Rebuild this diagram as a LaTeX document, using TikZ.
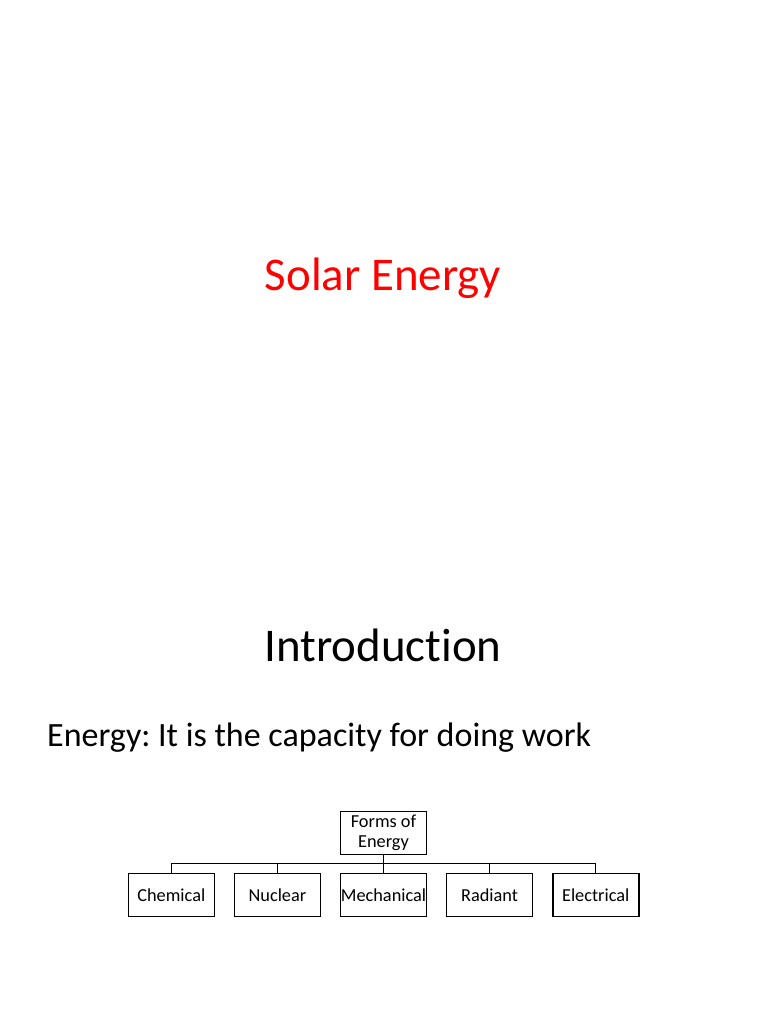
\documentclass[tikz,border=0pt]{standalone}
\usepackage{fontspec}
\setmainfont{Carlito}[Ligatures={NoCommon}]
\usepackage{tikz}
\usetikzlibrary{positioning}
\definecolor{slideRed}{HTML}{FF0000}
\frenchspacing
\tikzset{
  slide title/.style={font=\fontsize{46.9}{56}\selectfont,inner sep=0pt,anchor=base},
  slide text/.style={font=\fontsize{34}{41}\selectfont,inner sep=0pt,anchor=base west},
  form box/.style={draw=black,line width=1.6pt,fill=white,minimum width=86pt,
    minimum height=43pt,inner sep=0pt,align=center,
    font=\fontsize{18.3}{20}\selectfont},
  tree line/.style={draw=black,line width=1.3pt}
}
\begin{document}
\begin{tikzpicture}[x=1pt,y=-1pt,node distance=18.5pt]
\useasboundingbox[fill=white] (0,0) rectangle (768,1024);
\node[slide title,text=slideRed] (title) at (383,290) {Solar Energy};
\node[slide title] (intro) at (383,661) {Introduction};
\node[slide text] (def) at (47,746) {Energy: It is the capacity for doing work};
\node[form box] (forms) at (383.5,833) {Forms of\\Energy};
\node[form box] (mech) at (383.5,895) {Mechanical};
\node[form box,left=of mech] (nucl) {Nuclear};
\node[form box,left=of nucl] (chem) {Chemical};
\node[form box,right=of mech] (rad) {Radiant};
\node[form box,right=of rad] (elec) {Electrical};
\foreach \c in {chem,nucl,mech,rad,elec}
  \draw[tree line] (forms.south) -- ++(0,-8pt) -| (\c.north);
\end{tikzpicture}
\end{document}
